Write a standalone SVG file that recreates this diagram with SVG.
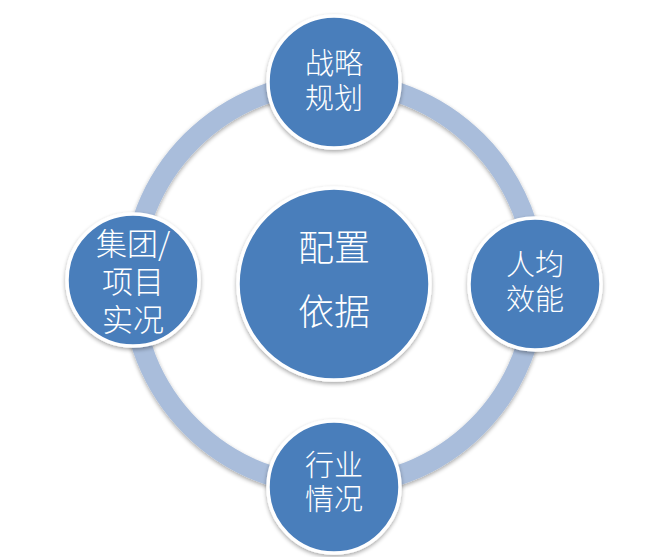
<svg xmlns="http://www.w3.org/2000/svg" width="663" height="557" viewBox="0 0 663 557">
<defs>
<filter id="sh" x="-20%" y="-20%" width="140%" height="140%">
<feGaussianBlur in="SourceAlpha" stdDeviation="2"/>
<feOffset dx="0" dy="1.5" result="b"/>
<feComponentTransfer><feFuncA type="linear" slope="0.35"/></feComponentTransfer>
<feMerge><feMergeNode/><feMergeNode in="SourceGraphic"/></feMerge>
</filter>
</defs>
<style>
.node circle{fill:#4A7EBB;stroke:#FFFFFF;stroke-width:3.5;filter:url(#sh)}
.node text{fill:#FFFFFF;font-family:"Noto Sans CJK SC",sans-serif;font-weight:300;text-anchor:middle;dominant-baseline:central}
.ring{fill:none;stroke:#A9BDDB;stroke-width:20;filter:url(#sh)}
</style>
<rect width="663" height="557" fill="#FFFFFF"/>
<g id="connectors">
<circle class="ring" cx="334" cy="284" r="202"/>
</g>
<g id="center" class="node">
<circle cx="334" cy="284" r="96"/>
<text x="334" y="245" font-size="36">配置</text>
<text x="334" y="309" font-size="36">依据</text>
</g>
<g id="top" class="node">
<circle cx="334" cy="82" r="66"/>
<text x="334" y="61" font-size="29">战略</text>
<text x="334" y="96" font-size="29">规划</text>
</g>
<g id="right" class="node">
<circle cx="535" cy="284" r="66"/>
<text x="535" y="262" font-size="29">人均</text>
<text x="535" y="297" font-size="29">效能</text>
</g>
<g id="bottom" class="node">
<circle cx="334" cy="487" r="66"/>
<text x="334" y="463" font-size="29">行业</text>
<text x="334" y="497" font-size="29">情况</text>
</g>
<g id="left" class="node">
<circle cx="133" cy="280" r="66"/>
<text x="133" y="241" font-size="31">集团/</text>
<text x="133" y="279" font-size="31">项目</text>
<text x="133" y="317" font-size="31">实况</text>
</g>
</svg>
